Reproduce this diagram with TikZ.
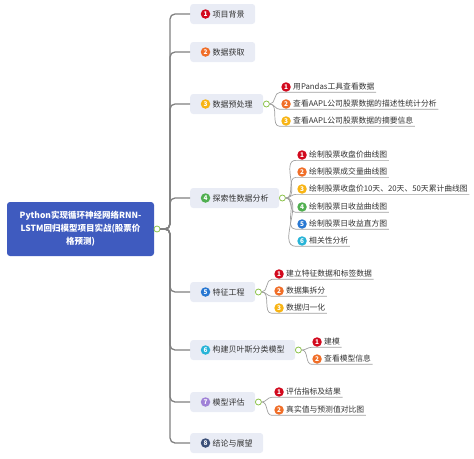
\documentclass[tikz,border=0pt]{standalone}
\usepackage{fontspec}
\setmainfont{Noto Sans CJK SC}
\usetikzlibrary{positioning}

\definecolor{rootblue}{RGB}{63,91,191}
\definecolor{boxgray}{RGB}{233,236,245}
\definecolor{linegray}{RGB}{128,128,128}
\definecolor{twiggray}{RGB}{160,160,160}
\definecolor{dotgreen}{RGB}{140,195,75}
\definecolor{txt}{RGB}{51,51,51}
\definecolor{n1}{RGB}{210,10,30}
\definecolor{n2}{RGB}{240,110,40}
\definecolor{n3}{RGB}{248,180,20}
\definecolor{n4}{RGB}{80,175,80}
\definecolor{n5}{RGB}{40,120,210}
\definecolor{n6}{RGB}{40,180,215}
\definecolor{n7}{RGB}{160,130,215}
\definecolor{n8}{RGB}{60,80,120}

\tikzset{
  topic/.style={fill=boxgray, rounded corners=3pt, minimum height=20pt, inner xsep=10.5pt,
    anchor=west, text=txt, font=\fontsize{8}{10}\selectfont},
  badge/.style={circle, fill=#1, text=white, inner sep=0pt, minimum size=9.5pt,
    font=\fontsize{6.5}{7}\bfseries\selectfont},
  leaf/.style={anchor=west, inner sep=1.5pt, text=txt, font=\fontsize{7.8}{9}\selectfont},
  knob/.style={circle, draw=dotgreen, fill=white, line width=0.8pt, inner sep=0pt, minimum size=6pt},
  trunk/.style={draw=linegray, line width=1.3pt, rounded corners=5pt},
  twig/.style={draw=twiggray, line width=0.7pt}
}

\begin{document}
\begin{tikzpicture}[x=1pt,y=-1pt]
\useasboundingbox (0,0) rectangle (474,458);

\node[fill=rootblue, rounded corners=3pt, minimum width=147pt, minimum height=54pt, text=white,
  align=center, font=\fontsize{8.5}{13}\bfseries\selectfont] (root) at (80.5,229)
  {Python实现循环神经网络RNN-\\LSTM回归模型项目实战(股票价\\格预测)};
\node[knob] (rootdot) at (157,229) {};

\foreach \n/\y/\t in {1/14/项目背景,2/52/数据获取,3/104/数据预处理,4/198/探索性数据分析,
  5/292/特征工程,6/350/构建贝叶斯分类模型,7/402/模型评估,8/443/结论与展望}{
  \node[topic] (t\n) at (190,\y) {\hspace*{12pt}\t};
  \node[badge=n\n] at ([xshift=15.5pt]t\n.west) {\n};
  \draw[trunk] (rootdot) -- (170,229) |- (t\n);
}

\foreach \n in {3,4,5,6,7}{
  \node[knob] (d\n) at ([xshift=3pt]t\n.east) {};
  \coordinate (e\n) at ([xshift=10pt]d\n.east);
}

% 数据预处理
\foreach \k/\y/\t in {1/87/用Pandas工具查看数据,2/104/查看AAPL公司股票数据的描述性统计分析,
  3/121/查看AAPL公司股票数据的摘要信息}{
  \node[leaf] (c3\k) at (291.5,\y) {\t};
  \node[badge=n\k, left=0.5pt of c3\k] {\k};
  \draw[twig] (d3) to[out=0,in=180] (e3 |- c3\k.south) -- (c3\k.south east);
}

% 探索性数据分析
\foreach \k/\y/\t in {1/155/绘制股票收盘价曲线图,2/172/绘制股票成交量曲线图,
  3/189/绘制股票收盘价10天、20天、50天累计曲线图,4/207/绘制股票日收益曲线图,
  5/224/绘制股票日收益直方图,6/241/相关性分析}{
  \node[leaf] (c4\k) at (307.5,\y) {\t};
  \node[badge=n\k, left=0.5pt of c4\k] {\k};
  \draw[twig] (d4) to[out=0,in=180] (e4 |- c4\k.south) -- (c4\k.south east);
}

% 特征工程
\foreach \k/\y/\t in {1/274/建立特征数据和标签数据,2/291/数据集拆分,3/308/数据归一化}{
  \node[leaf] (c5\k) at (284.5,\y) {\t};
  \node[badge=n\k, left=0.5pt of c5\k] {\k};
  \draw[twig] (d5) to[out=0,in=180] (e5 |- c5\k.south) -- (c5\k.south east);
}

% 构建贝叶斯分类模型
\foreach \k/\y/\t in {1/342/建模,2/359/查看模型信息}{
  \node[leaf] (c6\k) at (322.5,\y) {\t};
  \node[badge=n\k, left=0.5pt of c6\k] {\k};
  \draw[twig] (d6) to[out=0,in=180] (e6 |- c6\k.south) -- (c6\k.south east);
}

% 模型评估
\foreach \k/\y/\t in {1/392/评估指标及结果,2/410/真实值与预测值对比图}{
  \node[leaf] (c7\k) at (284.5,\y) {\t};
  \node[badge=n\k, left=0.5pt of c7\k] {\k};
  \draw[twig] (d7) to[out=0,in=180] (e7 |- c7\k.south) -- (c7\k.south east);
}
\end{tikzpicture}
\end{document}
